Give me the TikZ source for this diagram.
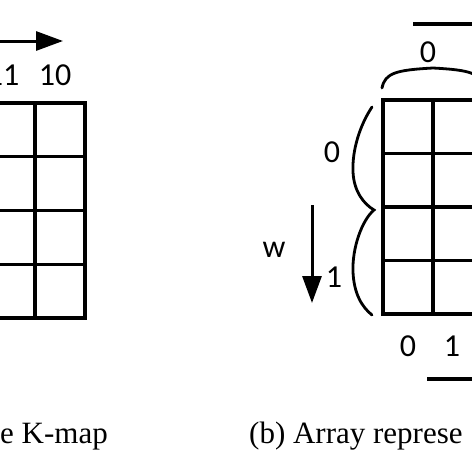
\documentclass[tikz,border=0pt]{standalone}
\usepackage{fontspec}
\setmainfont{Liberation Serif}
\newfontfamily\calib{Carlito}
\usetikzlibrary{arrows.meta}
\tikzset{
  gridline/.style={line width=3.2pt, line cap=rect},
  bracel/.style={line width=2.8pt, line cap=round},
  lbl/.style={font=\calib\fontsize{32}{32}\selectfont, inner sep=0pt},
  captext/.style={font=\fontsize{31}{31}\selectfont, inner sep=0pt},
  bigarrow/.style={line width=3pt, -{Triangle[length=27pt,width=19pt]}},
  overbar/.style={line width=3.2pt}
}
\begin{document}
\begin{tikzpicture}[x=1pt,y=-1pt]
\useasboundingbox (0,0) rectangle (472,472);
\clip (0,0) rectangle (472,472);
% left grid (a)
\foreach \y in {103,156.75,210.5,264.25,318} \draw[gridline] (-20,\y) -- (85,\y);
\foreach \x in {-15,35,85} \draw[gridline] (\x,103) -- (\x,318);
\coordinate (ra) at (-20,41);
\coordinate (rb) at (63,41);
\draw[bigarrow] (ra) -- (rb);
\node[lbl] (l11) at (3,75) {11};
\node[lbl] (l10) at (55,75) {10};
\node[captext, anchor=base east] (capa) at (108,443) {e K-map};
% right grid (b)
\foreach \y in {100,153.5,207,260.5,314} \draw[gridline] (383,\y) -- (500,\y);
\foreach \x in {383,433,483} \draw[gridline] (\x,100) -- (\x,314);
% top brace
\draw[bracel] (382,88) .. controls (385,73) and (396,70) .. (433,68) .. controls (470,70) and (481,73) .. (484,88);
\node[lbl] (t0) at (428,52) {0};
\draw[overbar] (413,24) -- (500,24);
% left brace
\draw[bracel] (372,107) .. controls (360,125) and (352,150) .. (353,172) .. controls (354,192) and (364,204) .. (374,210)
  .. controls (362,220) and (352,248) .. (353,272) .. controls (354,294) and (362,307) .. (372,315);
\node[lbl] (r0) at (332,152) {0};
\node[lbl] (r1) at (334,277) {1};
\node[lbl] (w) at (274,250) {w};
\coordinate (da) at (312,205);
\coordinate (db) at (312,303);
\draw[bigarrow] (da) -- (db);
% bottom labels
\node[lbl] (b0) at (408,346) {0};
\node[lbl] (b1) at (452,346) {1};
\draw[overbar] (427,379) -- (500,379);
\node[captext, anchor=base west] (capb) at (249,443) {(b) Array represe};
\end{tikzpicture}
\end{document}
